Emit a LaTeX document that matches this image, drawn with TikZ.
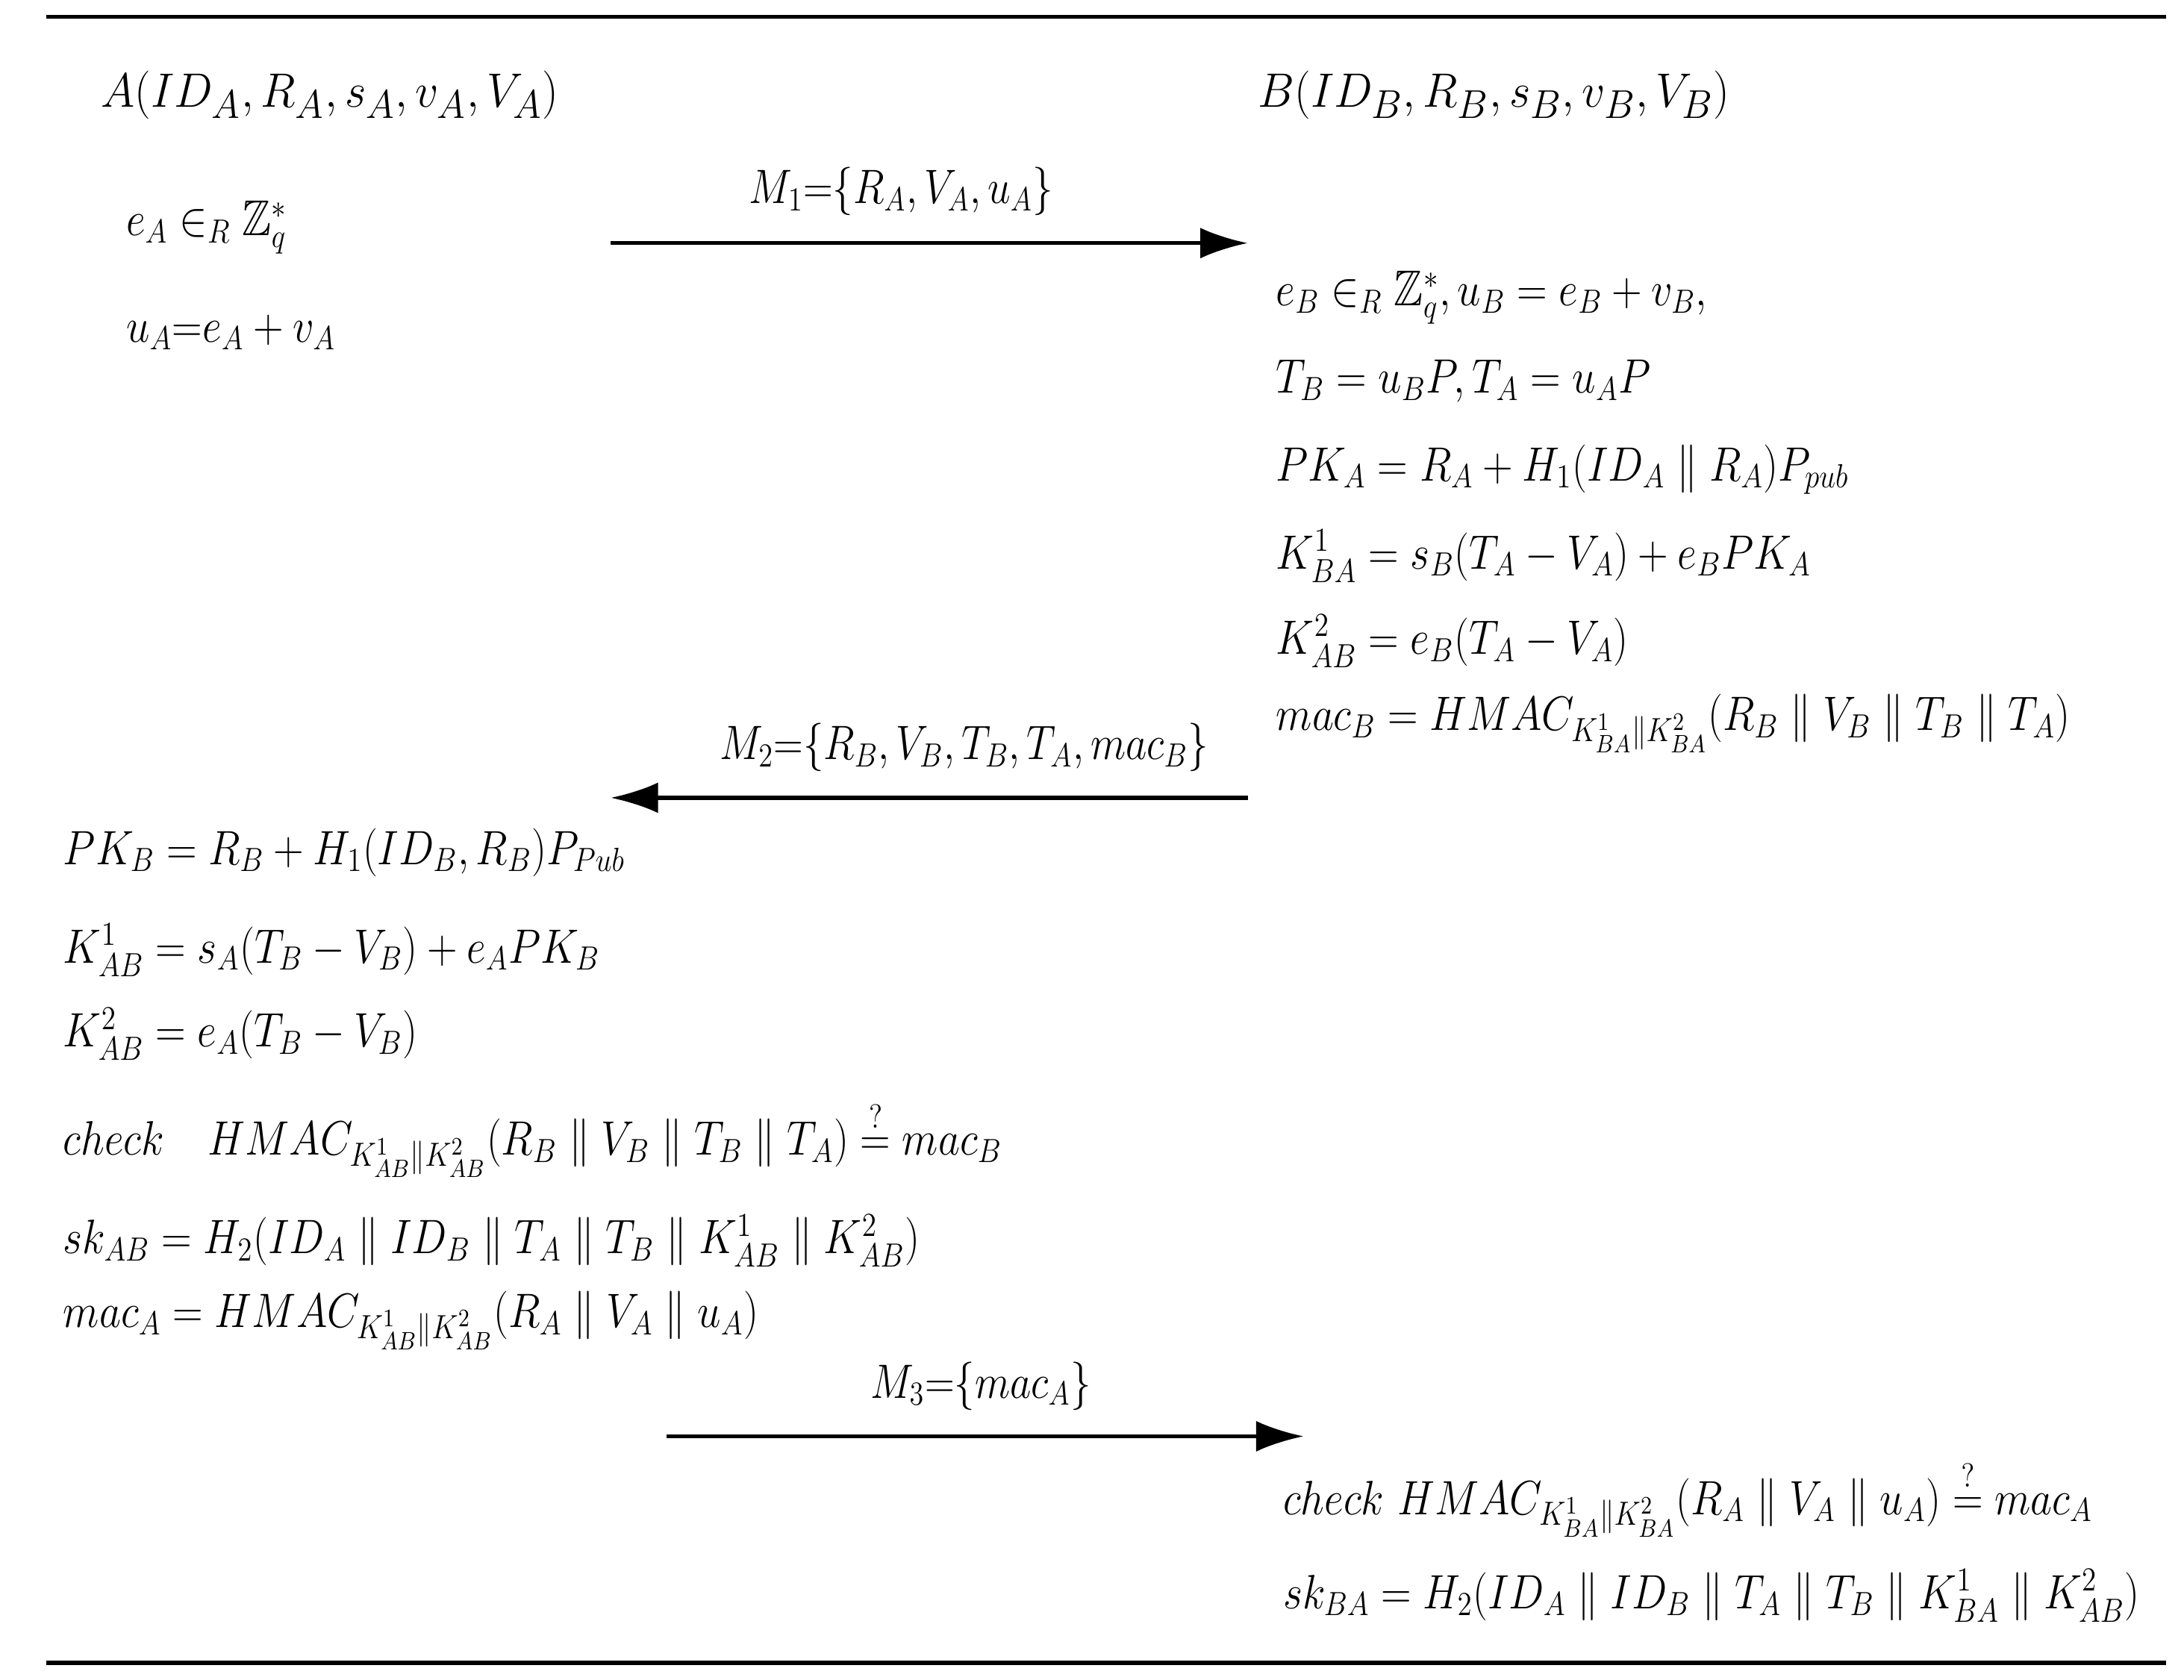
\documentclass[tikz,border=0pt]{standalone}
\usepackage{amsmath,amssymb}
\usetikzlibrary{arrows.meta}
\begin{document}
\begin{tikzpicture}[x=0.5pt,y=-0.5pt,
  txt/.style={anchor=west,inner sep=0pt,xscale=0.87,transform shape,font=\fontsize{18}{22}\selectfont},
  ttl/.style={anchor=west,inner sep=0pt,xscale=0.95,transform shape,font=\fontsize{19}{22}\selectfont},
  lab/.style={inner sep=0pt,xscale=0.85,transform shape,font=\fontsize{18}{22}\selectfont},
  msg/.style={line width=1.4pt,-{Latex[length=17pt,width=11pt]}}]
\useasboundingbox (0,0) rectangle (1563,1202);
\draw[line width=1.5pt] (33,12) -- (1550,12);
\draw[line width=1.5pt] (33,1190) -- (1550,1190);
\node[ttl] (ta) at (72,68) {$A(ID_A,R_A,s_A,v_A,V_A)$};
\node[ttl] (tb) at (900,68) {$B(ID_B,R_B,s_B,v_B,V_B)$};
\node[txt] (a1) at (90,163) {$e_A\in_R \mathbb{Z}_q^*$};
\node[txt] (a2) at (90,238) {$u_A{=}e_A+v_A$};
\coordinate (p1) at (437,174); \coordinate (q1) at (893,174);
\coordinate (m1) at (645,137);
\draw[msg] (p1) -- (q1);
\node[lab] (l1) at (m1) {$M_1{=}\{R_A,V_A,u_A\}$};
\node[txt] (b1) at (913,213) {$e_B\in_R \mathbb{Z}_q^*,u_B=e_B+v_B,$};
\node[txt] (b2) at (913,273) {$T_B=u_BP,T_A=u_AP$};
\node[txt] (b3) at (913,336) {$PK_A=R_A+H_1(ID_A\parallel R_A)P_{pub}$};
\node[txt] (b4) at (913,398) {$K_{BA}^1=s_B(T_A-V_A)+e_BPK_A$};
\node[txt] (b5) at (913,459) {$K_{AB}^2=e_B(T_A-V_A)$};
\node[txt] (b6) at (913,518) {$mac_B=HMAC_{K_{BA}^1\parallel K_{BA}^2}(R_B\parallel V_B\parallel T_B\parallel T_A)$};
\coordinate (p2) at (893,571); \coordinate (q2) at (437,571);
\coordinate (m2) at (690,535);
\draw[msg] (p2) -- (q2);
\node[lab] (l2) at (m2) {$M_2{=}\{R_B,V_B,T_B,T_A,mac_B\}$};
\node[txt] (c1) at (45,610) {$PK_B=R_B+H_1(ID_B,R_B)P_{Pub}$};
\node[txt] (c2) at (45,680) {$K_{AB}^1=s_A(T_B-V_B)+e_APK_B$};
\node[txt] (c3) at (45,740) {$K_{AB}^2=e_A(T_B-V_B)$};
\node[txt] (c4) at (45,815) {$check\quad HMAC_{K_{AB}^1\parallel K_{AB}^2}(R_B\parallel V_B\parallel T_B\parallel T_A)\overset{?}{=}mac_B$};
\node[txt] (c5) at (45,888) {$sk_{AB}=H_2(ID_A\parallel ID_B\parallel T_A\parallel T_B\parallel K_{AB}^1\parallel K_{AB}^2)$};
\node[txt] (c6) at (45,945) {$mac_A=HMAC_{K_{AB}^1\parallel K_{AB}^2}(R_A\parallel V_A\parallel u_A)$};
\coordinate (p3) at (477,1028); \coordinate (q3) at (933,1028);
\coordinate (m3) at (702,992);
\draw[msg] (p3) -- (q3);
\node[lab] (l3) at (m3) {$M_3{=}\{mac_A\}$};
\node[txt] (d1) at (918,1072) {$check\ HMAC_{K_{BA}^1\parallel K_{BA}^2}(R_A\parallel V_A\parallel u_A)\overset{?}{=}mac_A$};
\node[txt] (d2) at (918,1142) {$sk_{BA}=H_2(ID_A\parallel ID_B\parallel T_A\parallel T_B\parallel K_{BA}^1\parallel K_{AB}^2)$};
\end{tikzpicture}
\end{document}
